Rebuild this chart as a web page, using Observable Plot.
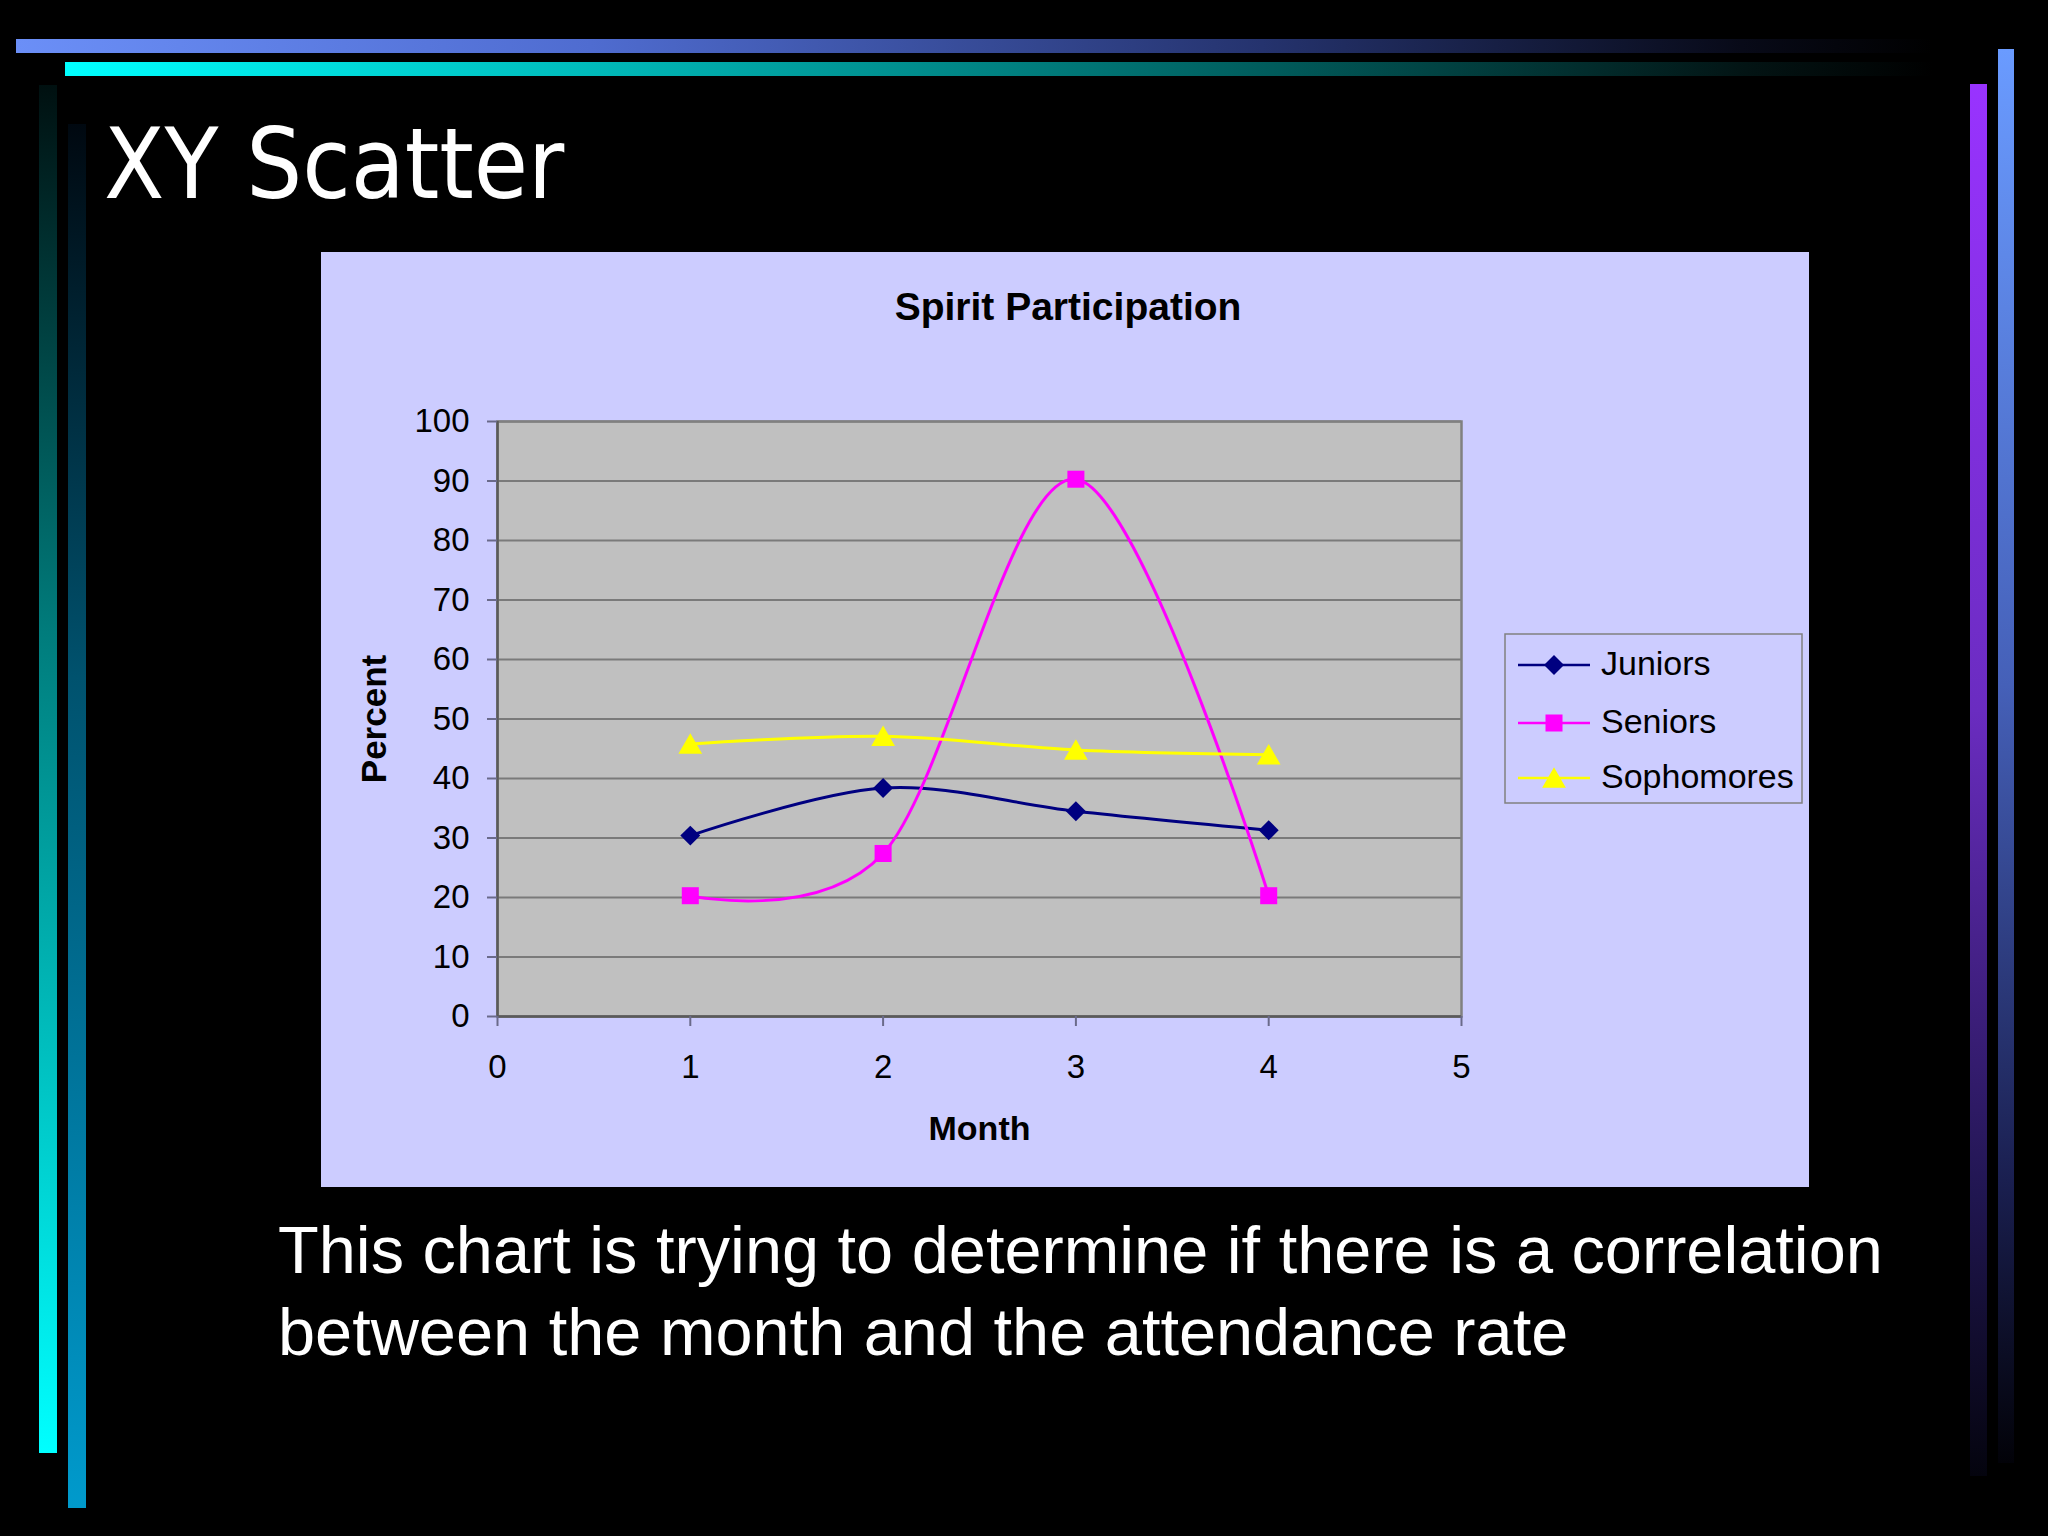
<!DOCTYPE html>
<html><head><meta charset="utf-8">
<script src="https://cdn.jsdelivr.net/npm/d3@7"></script>
<script src="https://cdn.jsdelivr.net/npm/@observablehq/plot@0.6"></script>
<style>
html,body{margin:0;padding:0;background:#000;}
#stage{position:relative;width:2048px;height:1536px;background:#000;overflow:hidden;}
#chart{position:absolute;left:321px;top:252px;z-index:1;}
#overlay{position:absolute;left:0;top:0;z-index:2;pointer-events:none;}
</style></head>
<body><div id="stage"><div id="chart"></div></div>
<script>
// ---- data ----
const seriesNames = ["Juniors", "Seniors", "Sophomores"];
const seriesColors = ["#000080", "#FF00FF", "#FFFF00"];
const months = [1, 2, 3, 4];
const juniors = [30.4, 38.4, 34.5, 31.3];
const seniors = [20.3, 27.4, 90.3, 20.3];
const sophomores = [45.8, 47.1, 44.8, 44.0];
const xTicks = [0, 1, 2, 3, 4, 5];
const yTicks = [0, 10, 20, 30, 40, 50, 60, 70, 80, 90, 100];
const chartTitle = "Spirit Participation";
const xLabel = "Month";
const yLabel = "Percent";
const slideTitle = "XY Scatter";
const captionLines = ["This chart is trying to determine if there is a correlation", "between the month and the attendance rate"];

const seriesValues = [juniors, seniors, sophomores];
const rows = seriesNames.flatMap((s, i) => months.map((m, j) => ({series: s, month: m, value: seriesValues[i][j]})));
const bySeries = s => rows.filter(d => d.series === s);

const FONT = "'Liberation Sans', Arial, Helvetica, sans-serif";
const markerR = [9, 9.6, 8.8];

const chart = Plot.plot({
  width: 1488,
  height: 935,
  marginLeft: 176,
  marginRight: 348,
  marginTop: 169,
  marginBottom: 171,
  style: {background: "#CCCCFF", fontFamily: FONT, fontSize: "33px", color: "#000", overflow: "visible"},
  x: {domain: [0, 5], ticks: xTicks, label: null},
  y: {domain: [0, 100], ticks: yTicks, label: null},
  color: {domain: seriesNames, range: seriesColors},
  marks: [
    Plot.frame({fill: "#C0C0C0", stroke: null}),
    Plot.gridY(yTicks, {stroke: "#7a7a7a", strokeOpacity: 1, strokeWidth: 2}),
    Plot.frame({stroke: "#808080", strokeWidth: 2.5}),
    Plot.ruleX([0], {stroke: "#5a5a5a", strokeWidth: 2.5}),
    Plot.ruleY([0], {stroke: "#5a5a5a", strokeWidth: 2.5}),
    Plot.axisY({ticks: yTicks, tickSize: 10, tickPadding: 18, tickFormat: d3.format("d"), label: null, stroke: "#6a6a8a", strokeWidth: 2, fill: "#000", fontSize: 33}),
    Plot.axisX({ticks: xTicks, tickSize: 10, tickPadding: 28, tickFormat: d3.format("d"), label: null, stroke: "#6a6a8a", strokeWidth: 2, fill: "#000", fontSize: 33}),
    Plot.line(rows, {x: "month", y: "value", z: "series", stroke: "series", strokeWidth: 3, curve: "cardinal", tension: 0}),
    Plot.dot(bySeries("Juniors"), {x: "month", y: "value", symbol: "diamond2", r: markerR[0], fill: seriesColors[0], stroke: null}),
    Plot.dot(bySeries("Seniors"), {x: "month", y: "value", symbol: "square", r: markerR[1], fill: seriesColors[1], stroke: null}),
    Plot.dot(bySeries("Sophomores"), {x: "month", y: "value", symbol: "triangle", r: markerR[2], dy: 3, fill: seriesColors[2], stroke: null}),
    Plot.text([xLabel], {frameAnchor: "bottom", lineAnchor: "bottom", textAnchor: "middle", dy: 123, text: d => d, fontWeight: "bold", fontSize: 34, fill: "#000"}),
    Plot.text([yLabel], {frameAnchor: "left", lineAnchor: "bottom", textAnchor: "middle", rotate: -90, dx: -112, text: d => d, fontWeight: "bold", fontSize: 35, fill: "#000"})
  ]
});
document.getElementById("chart").appendChild(chart);

// ---- overlay: slide decorations, titles, legend ----
const svg = d3.select("#stage").append("svg").attr("id", "overlay")
  .attr("width", 2048).attr("height", 1536);
const defs = svg.append("defs");
function grad(id, horizontal, stops) {
  const g = defs.append("linearGradient").attr("id", id)
    .attr("x1", 0).attr("y1", 0).attr("x2", horizontal ? 1 : 0).attr("y2", horizontal ? 0 : 1);
  stops.forEach(([o, c]) => g.append("stop").attr("offset", o).attr("stop-color", c));
}
grad("gTop1", true, [[0, "#6B8FF7"], [0.3, "#4F6CD0"], [0.65, "#25336E"], [0.9, "#080A18"], [1, "#000"]]);
grad("gTop2", true, [[0, "#00FFFF"], [0.3, "#00B5B5"], [0.65, "#005A5A"], [0.9, "#031414"], [1, "#000"]]);
grad("gR1", false, [[0, "#6A9BFF"], [0.45, "#4560B8"], [0.8, "#1A1F50"], [1, "#020208"]]);
grad("gR2", false, [[0, "#9933FF"], [0.45, "#6A2CC0"], [0.8, "#201650"], [1, "#04040e"]]);
grad("gL1", false, [[0, "#001010"], [0.4, "#007C7C"], [1, "#00FFFF"]]);
grad("gL2", false, [[0, "#000810"], [0.4, "#00526E"], [1, "#009ACC"]]);

const deco = svg.append("g");
deco.append("rect").attr("x", 16).attr("y", 39).attr("width", 1917).attr("height", 14).attr("fill", "url(#gTop1)");
deco.append("rect").attr("x", 65).attr("y", 62).attr("width", 1868).attr("height", 14).attr("fill", "url(#gTop2)");
deco.append("rect").attr("x", 1998).attr("y", 49).attr("width", 16).attr("height", 1414).attr("fill", "url(#gR1)");
deco.append("rect").attr("x", 1970).attr("y", 84).attr("width", 17).attr("height", 1392).attr("fill", "url(#gR2)");
deco.append("rect").attr("x", 39).attr("y", 85).attr("width", 18).attr("height", 1368).attr("fill", "url(#gL1)");
deco.append("rect").attr("x", 68).attr("y", 124).attr("width", 18).attr("height", 1384).attr("fill", "url(#gL2)");

svg.append("text").attr("x", 104).attr("y", 198)
  .attr("font-family", "'DejaVu Sans Condensed', 'DejaVu Sans', sans-serif")
  .attr("font-size", 98).attr("fill", "#fff").text(slideTitle);

svg.append("text").attr("x", 1068).attr("y", 320).attr("text-anchor", "middle")
  .attr("font-family", FONT).attr("font-weight", "bold").attr("font-size", 39).attr("fill", "#000").text(chartTitle);

captionLines.forEach((t, i) => {
  svg.append("text").attr("x", 278).attr("y", 1273 + i * 82)
    .attr("font-family", FONT).attr("font-size", 66.7).attr("fill", "#fff").text(t);
});

// legend
const lg = svg.append("g").attr("transform", "translate(1505,634)");
lg.append("rect").attr("width", 297).attr("height", 169).attr("fill", "none").attr("stroke", "#808080").attr("stroke-width", 1.5);
const legendSymbols = [[d3.symbolDiamond2, markerR[0], 0], [d3.symbolSquare, markerR[1], 0], [d3.symbolTriangle, markerR[2], 3]];
const rowY = [31, 89, 144];
seriesNames.forEach((s, i) => {
  const g = lg.append("g").attr("transform", `translate(0,${rowY[i]})`);
  g.append("line").attr("x1", 13).attr("x2", 85).attr("y1", 0).attr("y2", 0)
    .attr("stroke", seriesColors[i]).attr("stroke-width", 2.6);
  const [sym, r, dy] = legendSymbols[i];
  g.append("path").attr("d", d3.symbol(sym, r * r * Math.PI)())
    .attr("transform", `translate(49,${dy})`).attr("fill", seriesColors[i]);
  g.append("text").attr("x", 96).attr("y", 10).attr("font-family", FONT).attr("font-size", 34)
    .attr("fill", "#000").text(s);
});
</script>
</body></html>
